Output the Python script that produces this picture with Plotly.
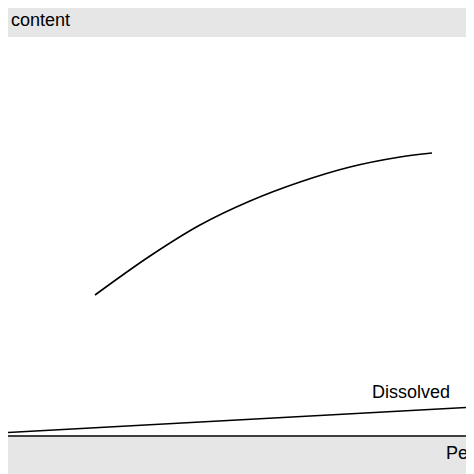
import plotly.graph_objects as go

curve_x = [95, 150, 200, 250, 300, 350, 400, 432]
curve_y = [295, 256, 225, 201, 182, 167, 157, 153]
diss_x = [0, 474]
diss_y = [433, 407]
labels = ["content", "Dissolved", "Pe"]

fig = go.Figure()
fig.add_trace(go.Scatter(x=curve_x, y=curve_y, mode="lines", line=dict(color="black", width=1.6, shape="spline")))
fig.add_trace(go.Scatter(x=diss_x, y=diss_y, mode="lines", line=dict(color="black", width=1.4)))
fig.add_trace(go.Scatter(x=[0, 474], y=[436, 436], mode="lines", line=dict(color="black", width=1.4)))

font = dict(family="Liberation Sans", size=18, color="black")
fig.update_layout(
    width=466, height=466, margin=dict(l=0, r=0, t=0, b=0),
    paper_bgcolor="white", plot_bgcolor="white", showlegend=False,
    xaxis=dict(range=[8, 474], visible=False, fixedrange=True),
    yaxis=dict(range=[474, 8], visible=False, fixedrange=True),
    shapes=[
        dict(type="rect", xref="x", yref="y", x0=0, x1=474, y0=0, y1=37, fillcolor="#e6e6e6", line_width=0, layer="below"),
        dict(type="rect", xref="x", yref="y", x0=0, x1=474, y0=437, y1=474, fillcolor="#e6e6e6", line_width=0, layer="below"),
    ],
    annotations=[
        dict(x=9, y=20, xref="x", yref="y", text=labels[0], showarrow=False, xanchor="left", font=font),
        dict(x=370, y=392, xref="x", yref="y", text=labels[1], showarrow=False, xanchor="left", font=font),
        dict(x=444, y=453, xref="x", yref="y", text=labels[2], showarrow=False, xanchor="left", font=font),
    ],
)
fig.write_html("out.html")
